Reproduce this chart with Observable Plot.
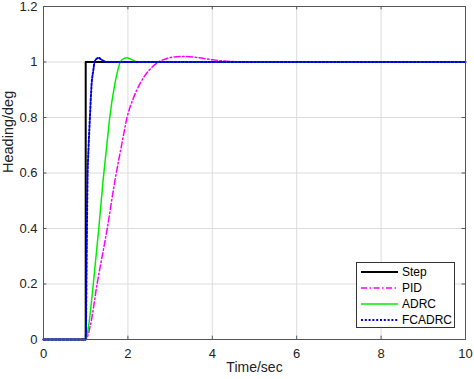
<!DOCTYPE html>
<html>
<head>
<meta charset="utf-8">
<script src="https://cdn.jsdelivr.net/npm/d3@7"></script>
<script src="https://cdn.jsdelivr.net/npm/@observablehq/plot@0.6"></script>
<style>
  html, body { margin: 0; padding: 0; background: #fff; }
  #wrap { position: relative; width: 474px; height: 379px; font-family: "Liberation Sans", Arial, sans-serif; }
  #legend { position: absolute; left: 356px; top: 262px; width: 99px; height: 66px; background: #fff; border: 1px solid #333; box-sizing: border-box; }
  .row { position: absolute; left: 0; height: 16px; width: 100%; }
  .row svg { position: absolute; left: 4px; top: 0; }
  .row span { position: absolute; left: 45px; top: 0; line-height: 16px; font-size: 12px; color: #000; }
</style>
</head>
<body>
<div id="wrap"></div>
<script>
// ---- data ----
const stepT = [0, 1, 1, 10];
const stepY = [0, 0, 1, 1];

const pidT = [0, 1, 1.11, 1.27, 1.51, 1.69, 1.85, 1.98, 2.13, 2.28, 2.5, 2.73, 2.95, 3.25, 3.6, 4.0, 4.43, 5, 10];
const pidY = [0, 0, 0.05, 0.2, 0.4, 0.57, 0.7, 0.8, 0.87, 0.92, 0.97, 1.0, 1.014, 1.02, 1.017, 1.008, 1.002, 1.0, 1.0];

const adrcT = [0, 1, 1.07, 1.18, 1.31, 1.41, 1.5, 1.57, 1.69, 1.76, 1.82, 1.9, 1.98, 2.06, 2.15, 2.26, 10];
const adrcY = [0, 0, 0.05, 0.2, 0.4, 0.57, 0.7, 0.8, 0.92, 0.97, 1.0, 1.012, 1.015, 1.011, 1.004, 1.0, 1.0];

const fcT = [0, 1, 1.02, 1.04, 1.07, 1.10, 1.14, 1.18, 1.21, 1.26, 1.31, 1.36, 1.42, 1.5, 10];
const fcY = [0, 0, 0.25, 0.55, 0.7, 0.8, 0.92, 0.97, 1.0, 1.012, 1.015, 1.01, 1.004, 1.0, 1.0];

const xTicks = [0, 2, 4, 6, 8, 10];
const yTicks = [0, 0.2, 0.4, 0.6, 0.8, 1, 1.2];
const yTickLabels = ["0", "0.2", "0.4", "0.6", "0.8", "1", "1.2"];

const seriesNames = ["Step", "PID", "ADRC", "FCADRC"];
const seriesColors = ["#000000", "#ff00ff", "#00ee00", "#0000dd"];
const seriesDash = [null, "6,2.5,1.5,2.5", null, "2,1.8"];
const seriesWidth = [2, 1.5, 1.5, 2];

const toRows = (t, y) => t.map((v, i) => ({t: v, y: y[i]}));
const allSeries = [toRows(stepT, stepY), toRows(pidT, pidY), toRows(adrcT, adrcY), toRows(fcT, fcY)];

const axisColor = "#555";
const plot = Plot.plot({
  width: 474,
  height: 379,
  marginLeft: 43,
  marginRight: 9,
  marginTop: 6,
  marginBottom: 40,
  style: {fontFamily: "'Liberation Sans', Arial, sans-serif", fontSize: "13px", background: "#fff", color: "#222"},
  x: {domain: [0, 10], ticks: xTicks},
  y: {domain: [0, 1.2], ticks: yTicks},
  marks: [
    Plot.gridX(xTicks, {stroke: "#dcdcdc", strokeOpacity: 1, strokeWidth: 1}),
    Plot.gridY(yTicks, {stroke: "#dcdcdc", strokeOpacity: 1, strokeWidth: 1}),
    // inward ticks
    Plot.ruleX(xTicks, {x: d => d, y1: 0, y2: 0.012, stroke: axisColor}),
    Plot.ruleX(xTicks, {x: d => d, y1: 1.2, y2: 1.188, stroke: axisColor}),
    Plot.ruleY(yTicks, {y: d => d, x1: 0, x2: 0.08, stroke: axisColor}),
    Plot.ruleY(yTicks, {y: d => d, x1: 10, x2: 9.92, stroke: axisColor}),
    ...allSeries.map((rows, i) => Plot.line(rows, {
      x: "t", y: "y",
      stroke: seriesColors[i],
      strokeWidth: seriesWidth[i],
      strokeDasharray: seriesDash[i],
      curve: i === 0 ? "linear" : "monotone-x"
    })),
    Plot.frame({stroke: axisColor, strokeWidth: 1}),
    Plot.axisX(xTicks, {tickSize: 0, tickPadding: 9, fontSize: 13, fill: "#222"}),
    Plot.axisY(yTicks, {tickSize: 0, tickPadding: 6, fontSize: 13, fill: "#222", tickFormat: (d) => yTickLabels[yTicks.indexOf(d)]}),
    Plot.text(["Time/sec"], {frameAnchor: "bottom", dy: 32, fontSize: 14, fill: "#222"}),
    Plot.text(["Heading/deg"], {frameAnchor: "left", dx: -35, rotate: -90, fontSize: 14.5, fill: "#222"})
  ]
});
plot.querySelectorAll("[aria-label='x-axis label'], [aria-label='y-axis label']").forEach(n => n.remove());

const wrap = document.getElementById("wrap");
wrap.appendChild(plot);

// legend
const legend = document.createElement("div");
legend.id = "legend";
const rowTops = [1, 17, 33, 49];
seriesNames.forEach((name, i) => {
  const row = document.createElement("div");
  row.className = "row";
  row.style.top = rowTops[i] + "px";
  const dash = seriesDash[i] ? `stroke-dasharray="${seriesDash[i]}"` : "";
  row.innerHTML = `<svg width="38" height="16"><line x1="0" x2="37" y1="8" y2="8" stroke="${seriesColors[i]}" stroke-width="${seriesWidth[i]}" ${dash}/></svg><span>${name}</span>`;
  legend.appendChild(row);
});
wrap.appendChild(legend);
</script>
</body>
</html>
